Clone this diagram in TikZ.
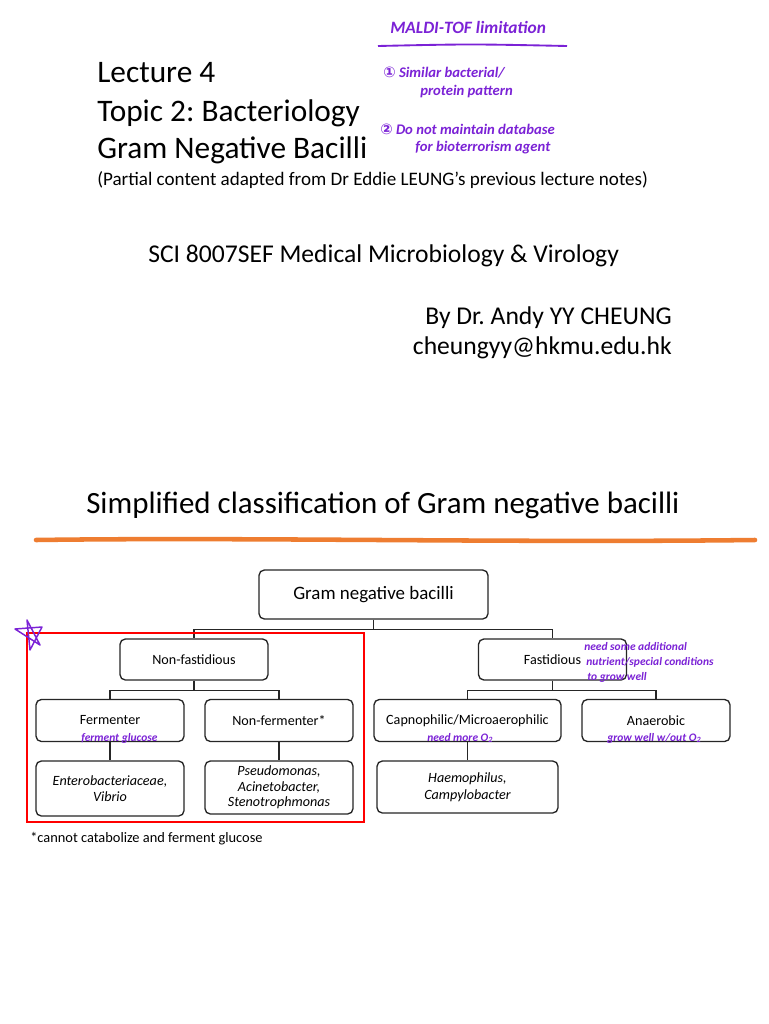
\documentclass[tikz,border=0pt]{standalone}
\usepackage{fontspec}
\setmainfont{Carlito}
\newfontfamily\dejavu{DejaVu Sans}
\usetikzlibrary{calc}
\definecolor{pen}{HTML}{7B22D6}
\definecolor{orng}{HTML}{EE7D31}
\definecolor{ink}{HTML}{262626}
\frenchspacing
\begin{document}
\frenchspacing
\begin{tikzpicture}[x=0.75pt,y=-0.75pt,
  box/.style={draw=ink,line width=1pt,rounded corners=4pt,align=center,inner sep=1pt,font=\fontsize{10.6}{12.5}\selectfont},
  conn/.style={draw=ink,line width=1pt},
  hand/.style={text=pen,font=\bfseries\itshape\fontsize{8.6}{10}\selectfont,inner sep=0pt,anchor=base west},
  handbig/.style={text=pen,font=\bfseries\itshape\fontsize{11}{12}\selectfont,inner sep=0pt,anchor=base west}]
\fill[white] (0,0) rectangle (768,1024);
\useasboundingbox (0,0) rectangle (768,1024);

% title block
\node[anchor=base west,inner sep=0pt,font=\fontsize{23.5}{28}\selectfont] (l1) at (97,83) {Lecture 4};
\node[anchor=base west,inner sep=0pt,font=\fontsize{23.5}{28}\selectfont] (l2) at (97,121) {Topic 2: Bacteriology};
\node[anchor=base west,inner sep=0pt,font=\fontsize{23.5}{28}\selectfont] (l3) at (97,158) {Gram Negative Bacilli};
\node[anchor=base west,inner sep=0pt,font=\fontsize{14.3}{17}\selectfont] (l4) at (97,185) {(Partial content adapted from Dr Eddie LEUNG’s previous lecture notes)};
\node[anchor=base west,inner sep=0pt,font=\fontsize{19.2}{23}\selectfont] (l5) at (148,262) {SCI 8007SEF Medical Microbiology \& Virology};
\node[anchor=base east,inner sep=0pt,font=\fontsize{19.2}{23}\selectfont] (l6) at (672,324) {By Dr. Andy YY CHEUNG};
\node[anchor=base east,inner sep=0pt,font=\fontsize{19.2}{23}\selectfont] (l7) at (672,354) {cheungyy@hkmu.edu.hk};

% annotations top right
\node[handbig,font=\bfseries\itshape\fontsize{13}{14}\selectfont] (m1) at (390,34) {MALDI-TOF limitation};
\draw[pen,line width=1.4pt] (378,46) .. controls (470,44) .. (567,46);
\node[handbig] (m2) at (383,78) {{\dejavu\upshape ①} Similar bacterial/};
\node[handbig] (m3) at (420,95) {protein pattern};
\node[handbig] (m4) at (380,134) {{\dejavu\upshape ②} Do not maintain database};
\node[handbig] (m5) at (415,151) {for bioterrorism agent};

% slide 2 title
\node[anchor=base west,inner sep=0pt,font=\fontsize{23.2}{27}\selectfont] (t2) at (86,513) {Simplified classification of Gram negative bacilli};
\draw[orng,line width=3.4pt,line cap=round] (36,540) .. controls (250,537) and (500,543) .. (755,540);

% tree
\node[box,minimum width=171.75pt,minimum height=36.75pt,font=\fontsize{14.2}{16}\selectfont] (gnb) at (373.5,594.5) {Gram negative bacilli};
\node[box,minimum width=111pt,minimum height=30.75pt] (nf) at (194,659.5) {Non-fastidious};
\node[box,minimum width=111pt,minimum height=30.75pt] (fa) at (552.5,659.5) {Fastidious};
\node[box,minimum width=111pt,minimum height=31.5pt] (fe) at (110,720.5) {Fermenter};
\node[box,minimum width=111pt,minimum height=31.5pt] (nfe) at (279,720.5) {Non-fermenter*};
\node[box,minimum width=140.25pt,minimum height=31.5pt] (ca) at (467.5,720.5) {Capnophilic/Microaerophilic};
\node[box,minimum width=111pt,minimum height=31.5pt] (an) at (656,720.5) {Anaerobic};
\node[box,minimum width=111pt,minimum height=41.25pt,font=\itshape\fontsize{10.6}{12.5}\selectfont] (en) at (110,788.5) {Enterobacteriaceae,\\Vibrio};
\node[box,minimum width=111pt,minimum height=39.75pt,font=\itshape\fontsize{10.6}{11.5}\selectfont] (ps) at (279,787.5) {Pseudomonas,\\Acinetobacter,\\Stenotrophmonas};
\node[box,minimum width=135.75pt,minimum height=39pt,font=\itshape\fontsize{10.6}{12.5}\selectfont] (ha) at (467.5,787) {Haemophilus,\\Campylobacter};

\draw[conn] (gnb.south) -- ($(gnb.south)+(0,10)$) -| (nf.north);
\draw[conn] ($(gnb.south)+(0,10)$) -| (fa.north);
\draw[conn] (nf.south) -- ($(nf.south)+(0,10)$) -| (fe.north);
\draw[conn] ($(nf.south)+(0,10)$) -| (nfe.north);
\draw[conn] (fa.south) -- ($(fa.south)+(0,10)$) -| (ca.north);
\draw[conn] ($(fa.south)+(0,10)$) -| (an.north);
\draw[conn] (fe.south) -- (en.north);
\draw[conn] (nfe.south) -- (ps.north);
\draw[conn] (ca.south) -- (ha.north);

% red highlight box
\draw[red,line width=1.8pt] (27,633) rectangle (364,822);

% footnote
\node[anchor=base west,inner sep=0pt,font=\fontsize{10.8}{12}\selectfont] (fn) at (30,842) {*cannot catabolize and ferment glucose};

% handwritten notes in tree
\node[hand] (h1) at (584,650) {need some additional};
\node[hand] (h2) at (586,665) {nutrient/special conditions};
\node[hand] (h3) at (587,680) {to grow well};
\node[hand] (h4) at (81,741) {ferment glucose};
\node[hand] (h5) at (427,741) {need more O\textsubscript{2}};
\node[hand] (h6) at (607,741) {grow well w/out O\textsubscript{2}};

% star
\draw[pen,line width=1.1pt,line join=round] (30,650) -- (27,620) -- (40,645) -- (15,629) -- (42,627) -- cycle;
\end{tikzpicture}
\end{document}
